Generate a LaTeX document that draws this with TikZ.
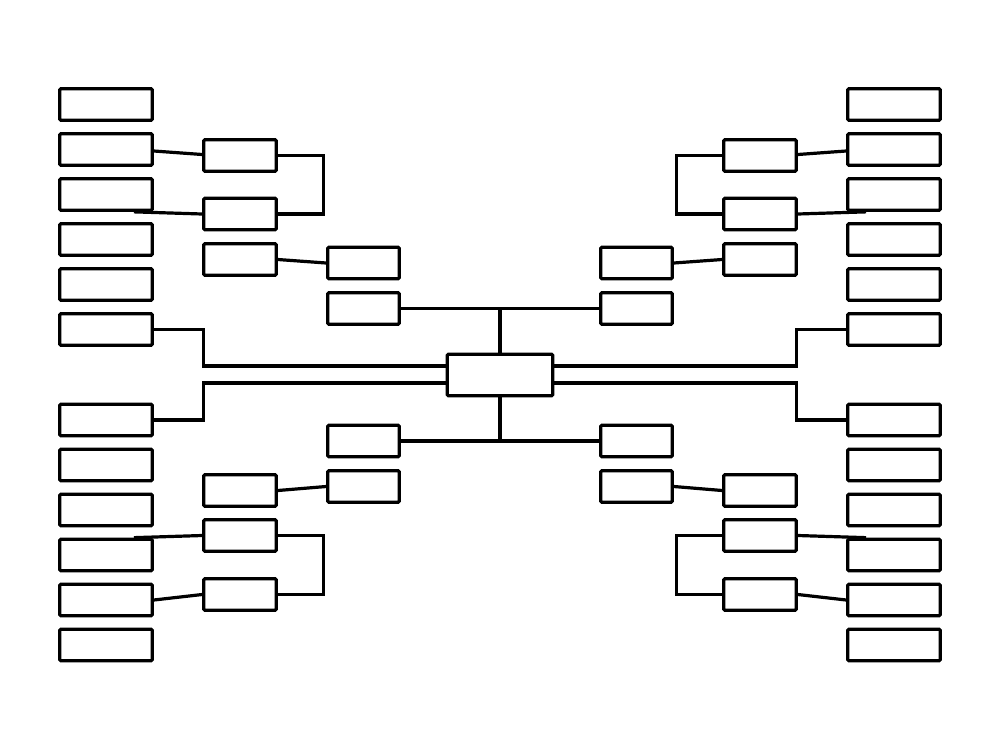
\documentclass[tikz,border=0pt]{standalone}
\begin{document}
\begin{tikzpicture}[
		x=1pt, y=-1pt,
		line width=3.2pt,
		every node/.style={draw, rectangle, rounded corners=1.2pt, inner sep=0pt},
		slot/.style={minimum width=92.5pt, minimum height=31.5pt},
		pair/.style={minimum width=72.5pt, minimum height=31.5pt},
		semi/.style={minimum width=71.5pt, minimum height=31.5pt},
		final/.style={minimum width=105.5pt, minimum height=41.5pt}
	]
	\useasboundingbox (0,0) rectangle (1000,750);
	\foreach \i in {1,...,6} {
		\node[slot] (L\i) at (106,{104.5+45*(\i-1)}) {};
		\node[slot] (R\i) at (894,{104.5+45*(\i-1)}) {};
		\node[slot] (LB\i) at (106,{420+45*(\i-1)}) {};
		\node[slot] (RB\i) at (894,{420+45*(\i-1)}) {};
	}
	\node[pair] (LA) at (240,155.5) {};
	\node[pair] (LB) at (240,214) {};
	\node[pair] (LC) at (240,259.5) {};
	\node[pair] (LD) at (240,490.5) {};
	\node[pair] (LE) at (240,535.5) {};
	\node[pair] (LF) at (240,594.5) {};
	\node[pair] (RA) at (760,155.5) {};
	\node[pair] (RB) at (760,214) {};
	\node[pair] (RC) at (760,259.5) {};
	\node[pair] (RD) at (760,490.5) {};
	\node[pair] (RE) at (760,535.5) {};
	\node[pair] (RF) at (760,594.5) {};
	\node[semi] (LS1) at (363.5,263) {};
	\node[semi] (LS2) at (363.5,308.5) {};
	\node[semi] (LS3) at (363.5,441) {};
	\node[semi] (LS4) at (363.5,486.5) {};
	\node[semi] (RS1) at (636.5,263) {};
	\node[semi] (RS2) at (636.5,308.5) {};
	\node[semi] (RS3) at (636.5,441) {};
	\node[semi] (RS4) at (636.5,486.5) {};
	\node[final] (champ) at (500,375) {};

	\draw ([yshift=-1.5pt]L2.east) -- ([yshift=1pt]LA.west);
	\draw ([xshift=-20pt]L3.south east) -- (LB.west);
	\draw (LA.east) -- ++(46,0) |- (LB.east);
	\draw (LC.east) -- (LS1.west);
	\draw (L6.east) -- ++(49.5,0) |- ([yshift=9pt]champ.west);
	\draw (LB1.east) -- ++(49.5,0) |- ([yshift=-8pt]champ.west);
	\draw (LD.east) -- (LS4.west);
	\draw ([xshift=-20pt]LB4.north east) -- (LE.west);
	\draw (LE.east) -- ++(46,0) |- (LF.east);
	\draw (LB5.east) -- (LF.west);

	\draw ([yshift=-1.5pt]R2.west) -- ([yshift=1pt]RA.east);
	\draw ([xshift=20pt]R3.south west) -- (RB.east);
	\draw (RA.west) -- ++(-46,0) |- (RB.west);
	\draw (RC.west) -- (RS1.east);
	\draw (R6.west) -- ++(-49.5,0) |- ([yshift=9pt]champ.east);
	\draw (RB1.west) -- ++(-49.5,0) |- ([yshift=-8pt]champ.east);
	\draw (RD.west) -- (RS4.east);
	\draw ([xshift=20pt]RB4.north west) -- (RE.east);
	\draw (RE.west) -- ++(-46,0) |- (RF.west);
	\draw (RB5.west) -- (RF.east);

	\draw (LS2.east) -- (RS2.west);
	\draw (champ.north) -- (champ.north |- LS2.east);
	\draw (LS3.east) -- (RS3.west);
	\draw (champ.south) -- (champ.south |- LS3.east);
\end{tikzpicture}
\end{document}
